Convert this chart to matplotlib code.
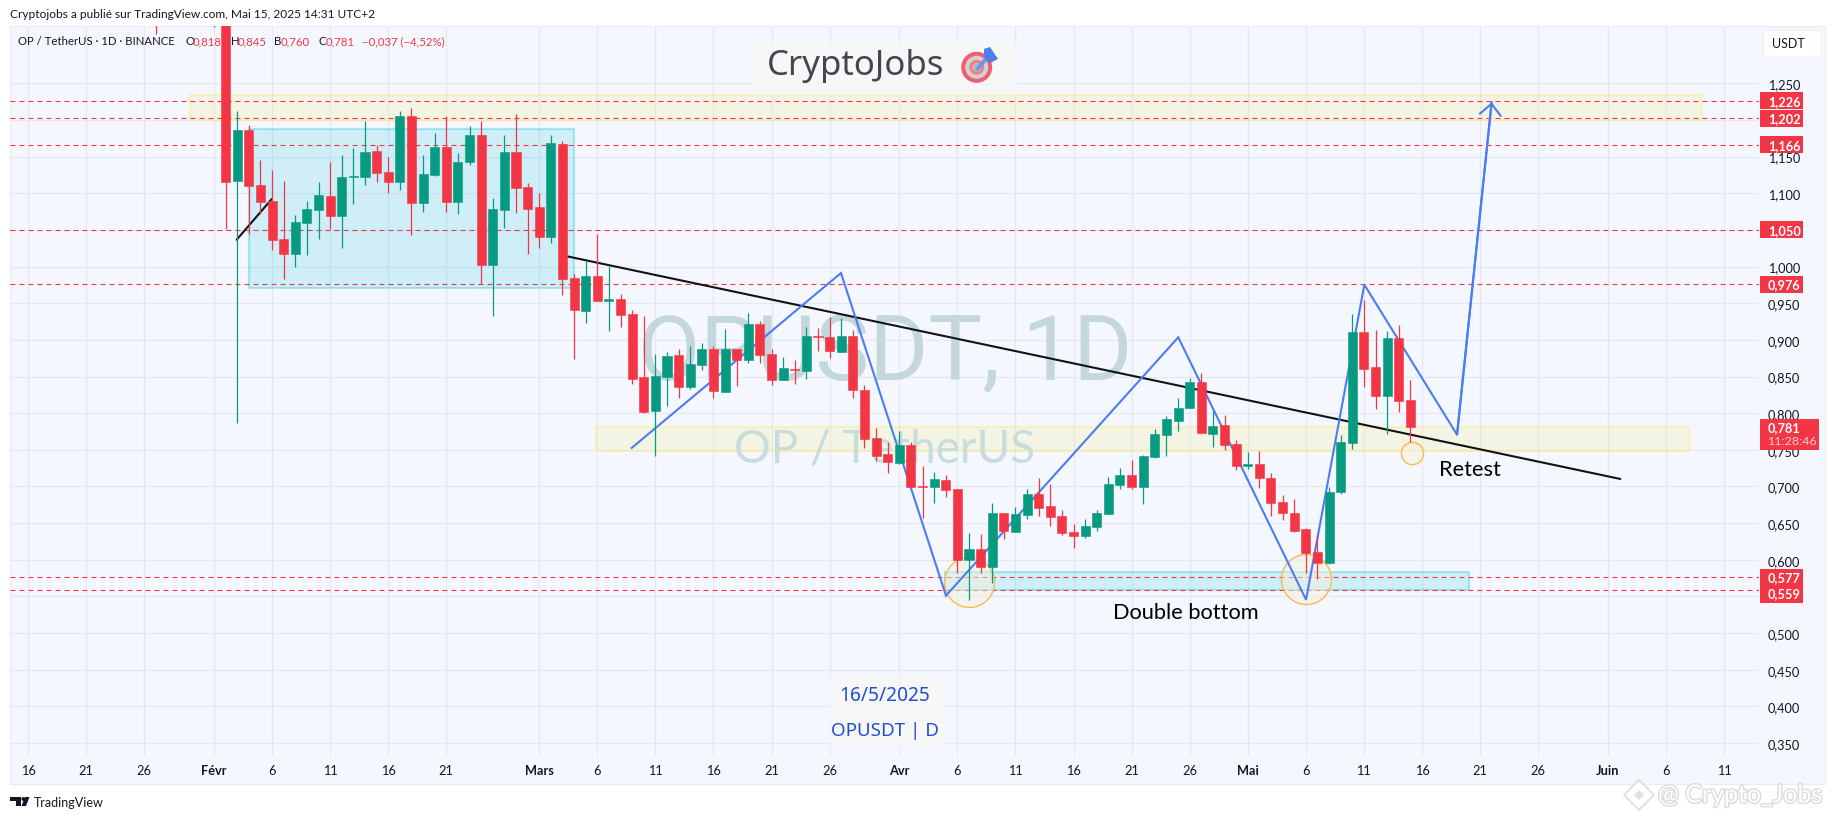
"""
plot.py - OPUSDT daily candles with the CryptoJobs drawings on top.
"""

import matplotlib

matplotlib.use("Agg")

import matplotlib.patheffects as pe
import matplotlib.pyplot as plt
import matplotlib.transforms as mtrans
import pandas as pd
from matplotlib.patches import Circle, Polygon, Rectangle

W, H = 1835, 820
FONT = "Lato"
LOGO_FONT = "Noto Sans"
MARK_FONT = "Roboto"

# two candles sit above the visible range, only their low wicks show
DATES = ["2025-01-27", "2025-02-01"] + [
    d.strftime("%Y-%m-%d") for d in pd.date_range("2025-02-02", "2025-05-15")
]

OPEN = [
    1.420, 1.420,
    # Feb 2 ...
    1.380, 1.117, 1.186, 1.111, 1.089, 1.038, 1.017, 1.059, 1.077, 1.096, 1.069, 1.122, 1.122,
    1.158, 1.129, 1.115, 1.205, 1.087, 1.125, 1.163, 1.088, 1.143, 1.179, 1.002, 1.077, 1.156, 1.109,
    # Mar
    1.081, 1.040, 1.167, 0.984, 0.939, 0.987, 0.953, 0.956, 0.935, 0.849, 0.803, 0.849, 0.879, 0.836,
    0.866, 0.888, 0.829, 0.888, 0.873, 0.922, 0.881, 0.845, 0.860, 0.858, 0.905, 0.904, 0.883, 0.905,
    0.832, 0.766, 0.744,
    # Apr
    0.732, 0.757, 0.700, 0.699, 0.709, 0.697, 0.600, 0.615, 0.590, 0.664, 0.638, 0.661, 0.690, 0.673,
    0.660, 0.638, 0.632, 0.645, 0.662, 0.702, 0.716, 0.699, 0.740, 0.770, 0.789, 0.807, 0.842, 0.772,
    0.784, 0.758,
    # May
    0.728, 0.731, 0.712, 0.679, 0.664, 0.642, 0.611, 0.596, 0.692, 0.759, 0.911, 0.863, 0.823, 0.903,
    0.818,
]
HIGH = [
    1.450, 1.450,
    1.420, 1.212, 1.193, 1.145, 1.132, 1.117, 1.070, 1.089, 1.115, 1.143, 1.152, 1.162, 1.199,
    1.166, 1.149, 1.212, 1.216, 1.152, 1.182, 1.205, 1.155, 1.192, 1.199, 1.094, 1.179, 1.208, 1.114,
    1.100, 1.179, 1.171, 0.990, 1.008, 1.044, 1.001, 0.963, 0.941, 0.933, 0.881, 0.883, 0.888, 0.892,
    0.896, 0.892, 0.915, 0.888, 0.937, 0.926, 0.888, 0.877, 0.873, 0.917, 0.916, 0.931, 0.930, 0.913,
    0.838, 0.780, 0.761,
    0.776, 0.761, 0.728, 0.720, 0.716, 0.697, 0.636, 0.635, 0.677, 0.664, 0.672, 0.697, 0.712, 0.703,
    0.668, 0.649, 0.656, 0.668, 0.713, 0.725, 0.736, 0.743, 0.778, 0.796, 0.821, 0.848, 0.855, 0.803,
    0.797, 0.763,
    0.747, 0.748, 0.718, 0.688, 0.683, 0.643, 0.634, 0.699, 0.770, 0.935, 0.954, 0.913, 0.912, 0.920,
    0.845,
]
LOW = [
    1.317, 1.327,
    1.051, 0.787, 1.044, 1.072, 1.023, 0.983, 0.999, 1.016, 1.038, 1.051, 1.025, 1.085, 1.111,
    1.115, 1.100, 1.104, 1.043, 1.074, 1.124, 1.074, 1.072, 1.139, 0.976, 0.933, 1.053, 1.073, 1.017,
    1.025, 1.032, 0.961, 0.874, 0.923, 0.953, 0.912, 0.918, 0.840, 0.800, 0.742, 0.810, 0.821, 0.833,
    0.859, 0.821, 0.829, 0.837, 0.868, 0.868, 0.838, 0.845, 0.840, 0.847, 0.885, 0.875, 0.883, 0.821,
    0.752, 0.735, 0.718,
    0.731, 0.699, 0.657, 0.677, 0.686, 0.582, 0.545, 0.582, 0.568, 0.628, 0.638, 0.656, 0.660, 0.646,
    0.634, 0.616, 0.630, 0.639, 0.662, 0.697, 0.697, 0.676, 0.739, 0.741, 0.776, 0.807, 0.773, 0.754,
    0.750, 0.722,
    0.724, 0.698, 0.660, 0.654, 0.638, 0.582, 0.574, 0.594, 0.690, 0.751, 0.836, 0.806, 0.771, 0.802,
    0.760,
]
CLOSE = [
    1.370, 1.380,
    1.116, 1.186, 1.110, 1.088, 1.036, 1.017, 1.061, 1.079, 1.098, 1.069, 1.122, 1.124, 1.156,
    1.128, 1.115, 1.205, 1.087, 1.126, 1.163, 1.088, 1.143, 1.179, 1.002, 1.079, 1.156, 1.107, 1.079,
    1.040, 1.169, 0.983, 0.941, 0.987, 0.953, 0.956, 0.934, 0.847, 0.802, 0.851, 0.878, 0.836, 0.867,
    0.888, 0.830, 0.888, 0.873, 0.922, 0.879, 0.845, 0.862, 0.859, 0.905, 0.904, 0.885, 0.905, 0.832,
    0.765, 0.742, 0.733,
    0.757, 0.699, 0.699, 0.710, 0.695, 0.600, 0.615, 0.590, 0.664, 0.639, 0.662, 0.690, 0.671, 0.658,
    0.636, 0.632, 0.646, 0.664, 0.703, 0.716, 0.699, 0.741, 0.772, 0.792, 0.807, 0.842, 0.773, 0.782,
    0.757, 0.728,
    0.731, 0.712, 0.677, 0.664, 0.639, 0.609, 0.596, 0.692, 0.761, 0.911, 0.860, 0.823, 0.903, 0.817,
    0.781,
]

TICK_DATES = [
    "2025-01-16", "2025-01-21", "2025-01-26", "2025-02-01", "2025-02-06", "2025-02-11", "2025-02-16",
    "2025-02-21", "2025-03-01", "2025-03-06", "2025-03-11", "2025-03-16", "2025-03-21", "2025-03-26",
    "2025-04-01", "2025-04-06", "2025-04-11", "2025-04-16", "2025-04-21", "2025-04-26", "2025-05-01",
    "2025-05-06", "2025-05-11", "2025-05-16", "2025-05-21", "2025-05-26", "2025-06-01", "2025-06-06",
    "2025-06-11",
]
TICK_LABELS = [
    "16", "21", "26", "Févr", "6", "11", "16", "21", "Mars", "6", "11", "16", "21", "26",
    "Avr", "6", "11", "16", "21", "26", "Mai", "6", "11", "16", "21", "26", "Juin", "6", "11",
]
PRICE_TICKS = [1.25, 1.20, 1.15, 1.10, 1.05, 1.00, 0.95, 0.90, 0.85, 0.80, 0.75, 0.70, 0.65,
               0.60, 0.55, 0.50, 0.45, 0.40, 0.35]
# these axis labels sit fully under a red level badge
HIDDEN_TICKS = [1.20, 1.05, 0.55]
LEVELS = [1.226, 1.202, 1.166, 1.050, 0.976, 0.577, 0.559]

# drawings, x is days counted from Feb 1
BLUE_X = [35.96, 53.98, 63.02, 83.02, 94.02, 99.04, 107.02, 110.0]
BLUE_Y = [0.7525, 0.9912, 0.5510, 0.9035, 0.5455, 0.9752, 0.7706, 1.2241]
TREND_X = [30.39, 121.08]
TREND_Y = [1.0140, 0.7102]
SHORT_X = [1.95, 4.97]
SHORT_Y = [1.0366, 1.0921]
YELLOW_ZONES = [(-2.08, 128.1, 1.2003, 1.234), (32.9, 127.0, 0.748, 0.7807)]
CYAN_ZONES = [(3.04, 31.0, 0.9707, 1.1877), (62.94, 108.08, 0.5583, 0.5829)]
BIG_CIRCLES = [(65.03, 0.5701), (94.04, 0.5737)]
SMALL_CIRCLES = [(103.12, 0.7452)]

RED = "#f23645"
GREEN = "#089981"
BLUE = "#4c7cf3"
PANE = "#f4f7fe"
GRID = "#e5e8f0"
INK = "#131722"

# pixel space with the origin top left, used for everything that is not chart data
PX = mtrans.Affine2D().scale(1, -1).translate(0, H)
LEFT, RIGHT, TOP, BOTTOM = 9.5, 1759, 26.7, 757
PX_PER_DAY = 11.615
FEB1_PX = 214


def days(date_list):
    return (pd.to_datetime(date_list) - pd.Timestamp("2025-02-01")).days.values


def draw_candles(ax):
    xs = days(DATES)
    for x, o, h, l, c in zip(xs, OPEN, HIGH, LOW, CLOSE):
        col = GREEN if c >= o else RED
        ax.vlines(x, l, h, color=col, linewidth=0.9, zorder=3)
        ax.bar(x, abs(c - o), bottom=min(o, c), width=0.78, color=col, edgecolor=col,
               linewidth=0.4, zorder=3)


def draw_zones(ax):
    for x0, x1, y0, y1 in YELLOW_ZONES:
        ax.add_patch(Rectangle((x0, y0), x1 - x0, y1 - y0, facecolor=(0.95, 0.91, 0.31, 0.15),
                               edgecolor=(0.99, 0.91, 0.30, 0.3), linewidth=1.5, zorder=1))
    for x0, x1, y0, y1 in CYAN_ZONES:
        ax.add_patch(Rectangle((x0, y0), x1 - x0, y1 - y0, facecolor=(0.0, 0.74, 0.83, 0.15),
                               edgecolor=(0.0, 0.74, 0.83, 0.3), linewidth=1.5, zorder=1))


def draw_lines(ax):
    ax.hlines(LEVELS, ax.get_xlim()[0], ax.get_xlim()[1], color=RED, linewidth=0.8,
              linestyle=(0, (4.5, 3.6)), zorder=2)
    ax.plot(TREND_X, TREND_Y, color="#131313", linewidth=1.5, zorder=2.5, solid_capstyle="round")
    ax.plot(SHORT_X, SHORT_Y, color="#131313", linewidth=1.5, zorder=2.5, solid_capstyle="round")
    ax.plot(BLUE_X, BLUE_Y, color=BLUE, linewidth=1.5, zorder=2.5, solid_joinstyle="miter")
    ax.annotate("", xy=(BLUE_X[-1], BLUE_Y[-1]), xytext=(BLUE_X[-2], BLUE_Y[-2]),
                arrowprops=dict(arrowstyle="->,head_length=0.8,head_width=0.76", color=BLUE,
                                linewidth=1.5, shrinkA=0, shrinkB=0, mutation_scale=10),
                zorder=2.5)
    for circles, size in ((BIG_CIRCLES, 36), (SMALL_CIRCLES, 16)):
        ax.plot([c[0] for c in circles], [c[1] for c in circles], "o", markersize=size,
                markerfacecolor=(0.96, 0.94, 0.86, 0.5), markeredgecolor="#f7b955",
                markeredgewidth=1.0, zorder=2)


def draw_badges(ax):
    trans = mtrans.blended_transform_factory(PX, ax.transData)
    def box(y0, y1, x1=1802.7):
        ax.add_patch(Rectangle((1760, y0), x1 - 1760, y1 - y0, transform=trans, facecolor=RED,
                               edgecolor="none", clip_on=False, zorder=6))
    def label(y, s, color="white", weight="bold", size=9.2):
        ax.text(1768, y, s, transform=trans, color=color, fontsize=size, fontweight=weight,
                va="center", ha="left", clip_on=False, zorder=7)
    # boxes stand 17px tall around their level
    half = 8.5 / 733
    for lv in [1.226, 1.202, 1.166, 1.050, 0.976]:
        box(lv - half, lv + half)
    box(0.5415, 0.5872)
    box(0.7501, 0.7920, x1=1819.3)
    for lv in LEVELS[:-1]:
        label(lv, f"{lv:.3f}".replace(".", ","))
    # the lowest label is pushed down a little by the one above it
    label(0.5547, "0,559")
    label(0.7813, "0,781")
    label(0.7624, "11:28:46", color="#fbc9cf", weight="normal", size=8.9)


def draw_header(fig):
    def put(x, y, s, **kw):
        kw.setdefault("color", INK)
        kw.setdefault("fontsize", 8.2)
        kw.setdefault("va", "center")
        fig.text(x, y, s, transform=PX, **kw)

    put(9.5, 15, "Cryptojobs a publié sur TradingView.com, Mai 15, 2025 14:31 UTC+2", fontsize=8.55)
    put(18, 41.7, "OP / TetherUS · 1D · BINANCE")
    for x, s in ((185, "O"), (230.5, "H"), (274, "B"), (318.3, "C")):
        put(x, 41.7, s)
    for x, s in ((192.6, "0,818"), (237.2, "0,845"), (280.7, "0,760"), (325.4, "0,781"),
                 (362.2, "−0,037 (−4,52%)")):
        put(x, 41.7, s, color=RED)

    fig.add_artist(Rectangle((1763.3, 31), 57.7, 25.7, transform=PX, facecolor="white",
                             edgecolor="#eef0f5", linewidth=0.6, zorder=3))
    put(1772, 44.3, "USDT", fontsize=9, zorder=4)

    # logo text with its pale backdrop and the target emoji
    fig.add_artist(Rectangle((753, 43), 263.7, 53, transform=PX, facecolor=(0.97, 0.97, 0.96, 0.85),
                             edgecolor="none", zorder=2))
    put(766.7, 66, "CryptoJobs", fontsize=25, color="#434651", zorder=3, family=LOGO_FONT)
    for r, col in ((15.5, "#ee5f70"), (11.5, "#d2d2d2"), (7.5, "#ee7f8a"), (4.5, "#b9b9b9")):
        fig.add_artist(Circle((976.7, 68.3), r, transform=PX, facecolor=col, edgecolor="none", zorder=3))
    fig.add_artist(Polygon([(975, 70), (990, 52), (993, 55), (978, 72)], transform=PX,
                           facecolor="#6b95e8", edgecolor="none", zorder=4))
    fig.add_artist(Polygon([(984, 50), (990, 48), (998, 60), (990, 64), (984, 58)], transform=PX,
                           facecolor="#4d7fe6", edgecolor="none", zorder=4))

    # date stamp at the bottom of the pane
    fig.add_artist(Rectangle((830, 678), 115, 70, transform=PX, facecolor=(0.97, 0.97, 0.96, 0.85),
                             edgecolor="none", zorder=2))
    put(885, 696, "16/5/2025", fontsize=13.8, color="#1e50d2", ha="center", zorder=3, family=LOGO_FONT)
    put(885, 730.7, "OPUSDT | D", fontsize=13.5, color="#1e50d2", ha="center", zorder=3, family=LOGO_FONT)

    put(1112.7, 619, "Double bottom", fontsize=15.7, color="black", va="baseline", zorder=3)
    put(1438.7, 476, "Retest", fontsize=15.7, color="black", va="baseline", zorder=3)


def draw_footer(fig):
    fig.add_artist(Polygon([(10, 798), (21, 798), (21, 807), (16, 807), (16, 802), (10, 802)],
                           transform=PX, facecolor="#131722", edgecolor="none"))
    fig.add_artist(Circle((23.3, 800), 1.9, transform=PX, facecolor="#131722", edgecolor="none"))
    fig.add_artist(Polygon([(21.5, 807), (25, 798), (29.5, 798), (26, 807)], transform=PX,
                           facecolor="#131722", edgecolor="none"))
    fig.text(33.5, 802.7, "TradingView", transform=PX, color="#131722", fontsize=9, va="center")

    # source mark in the corner
    halo = [pe.withStroke(linewidth=2, foreground="#dcdcdc")]
    fig.text(1658, 796, "@ Crypto_Jobs", transform=PX, color="white", fontsize=18, va="center",
             path_effects=halo, zorder=8)
    fig.add_artist(Polygon([(1639, 781), (1654, 796), (1639, 811), (1624, 796)], transform=PX,
                           facecolor="white", edgecolor="#dddddd", linewidth=1.2, zorder=8))
    fig.add_artist(Polygon([(1639, 791), (1644, 796), (1639, 801), (1634, 796)], transform=PX,
                           facecolor="#e2e2e2", edgecolor="none", zorder=8))


def main():
    plt.rcParams["font.family"] = [FONT, "DejaVu Sans"]
    fig = plt.figure(figsize=(W / 100, H / 100), dpi=100, facecolor="white")
    fig.add_artist(Rectangle((LEFT, TOP), 1825 - LEFT, 785 - TOP, transform=PX, facecolor=PANE,
                             edgecolor="#e8ebf2", linewidth=0.8, zorder=-1))

    ax = fig.add_axes([LEFT / W, 1 - BOTTOM / H, (RIGHT - LEFT) / W, (BOTTOM - TOP) / H])
    ax.patch.set_alpha(0)
    ax.set_xlim((LEFT - FEB1_PX) / PX_PER_DAY, (RIGHT - FEB1_PX) / PX_PER_DAY)
    ax.set_ylim(1.25 - (BOTTOM - 84.3) / 733, 1.25 - (TOP - 84.3) / 733)
    for side in ax.spines.values():
        side.set_visible(False)

    ax.set_xticks(days(TICK_DATES))
    ax.set_xticklabels(TICK_LABELS)
    ax.yaxis.tick_right()
    ax.set_yticks(PRICE_TICKS)
    ax.set_yticklabels(["" if v in HIDDEN_TICKS else f"{v:.3f}".replace(".", ",") for v in PRICE_TICKS])
    ax.tick_params(axis="both", length=0, labelsize=9.2, labelcolor=INK)
    ax.tick_params(axis="y", pad=6.5)
    ax.tick_params(axis="x", pad=5.5)
    for label, text in zip(ax.get_xticklabels(), TICK_LABELS):
        if not text.isdigit():
            label.set_fontweight("bold")
    ax.grid(True, color=GRID, linewidth=0.9, zorder=0)
    ax.set_axisbelow(True)

    draw_zones(ax)
    ax.text(638, 380, "OPUSDT, 1D", transform=PX, color="#c4d7dc", fontsize=65, va="baseline",
            family=[MARK_FONT, "DejaVu Sans"], zorder=1.5, clip_on=False)
    ax.text(734, 463, "OP / TetherUS", transform=PX, color="#c9dcdc", fontsize=33, va="baseline",
            zorder=1.5, clip_on=False)
    draw_lines(ax)
    draw_candles(ax)
    draw_badges(ax)
    draw_header(fig)
    draw_footer(fig)

    fig.savefig("out.png", dpi=100)
    plt.close(fig)


if __name__ == "__main__":
    main()
